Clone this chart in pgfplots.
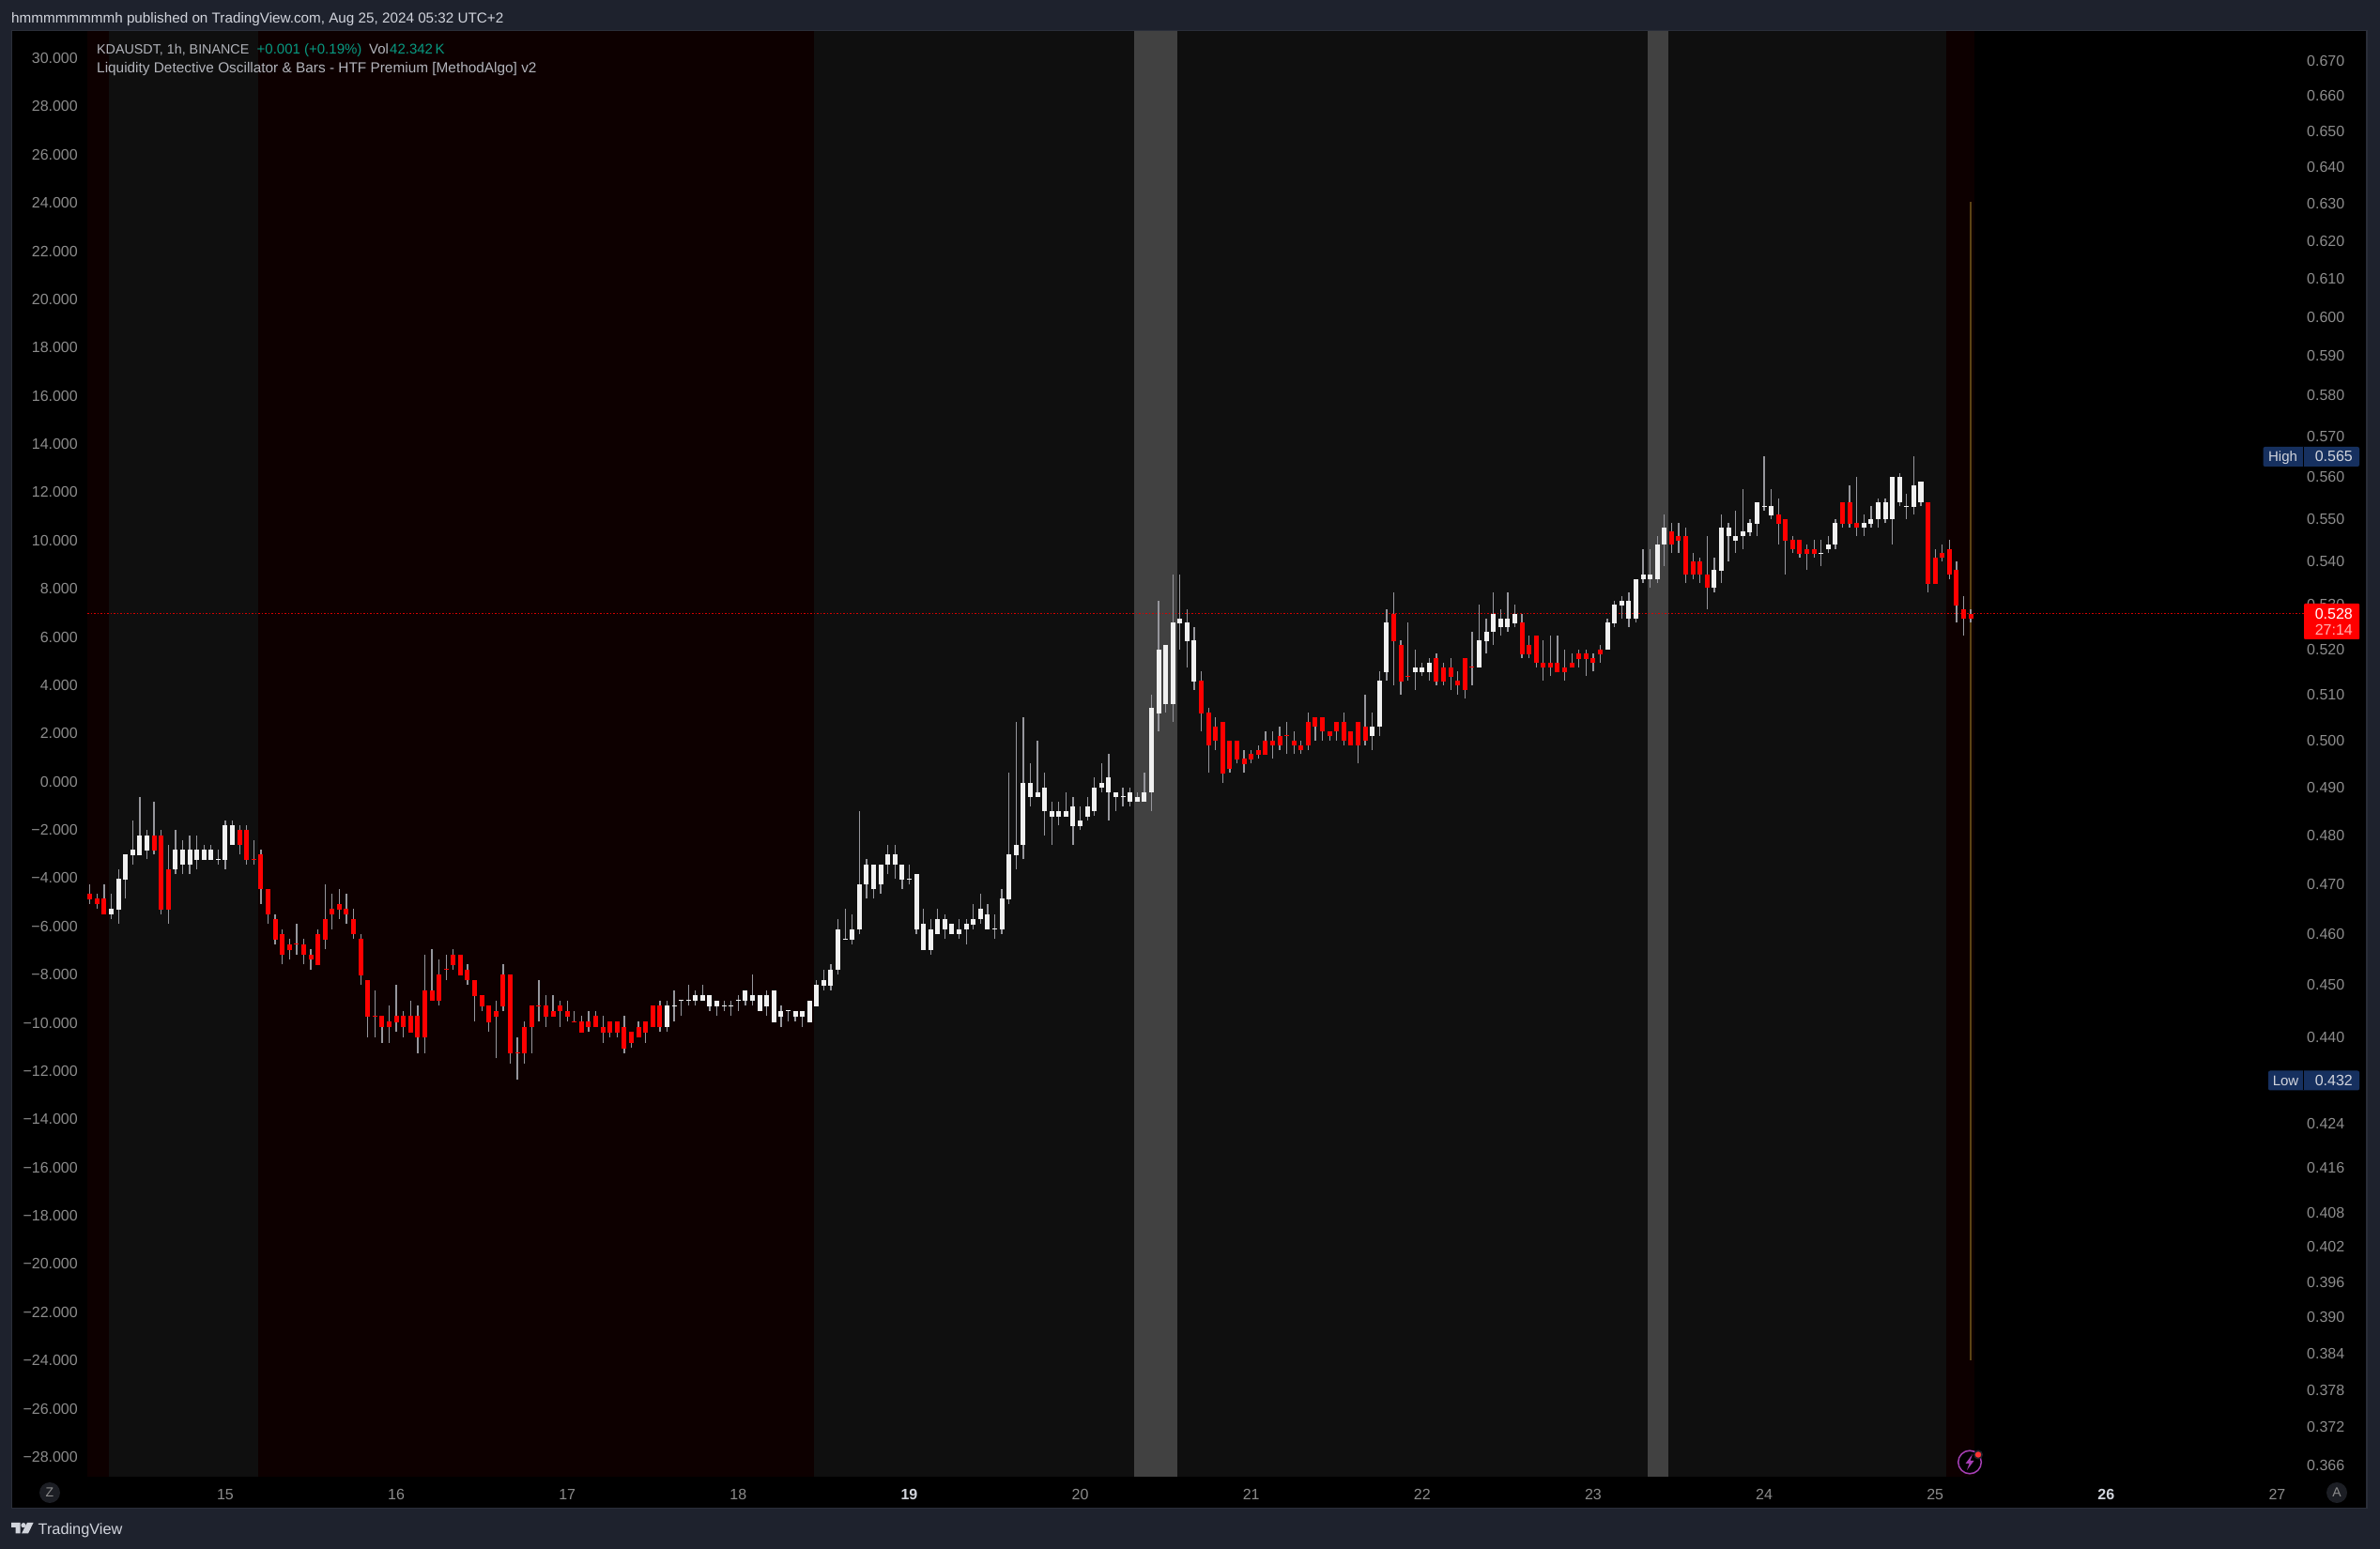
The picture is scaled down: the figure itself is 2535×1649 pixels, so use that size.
\documentclass[border=0pt]{standalone}
\usepackage{fontspec}
\setmainfont{Liberation Sans}
\usepackage{pgfplots}
\usepackage{pgfplotstable}
\pgfplotsset{compat=1.18}
\definecolor{tvbg}{HTML}{1E222D}
\definecolor{tvborder}{HTML}{2A2E39}
\definecolor{sred}{HTML}{0D0000}
\definecolor{sgray}{HTML}{0F0F0F}
\definecolor{slight}{HTML}{414141}
\definecolor{candlew}{HTML}{F0F0F0}
\definecolor{candler}{HTML}{FF0000}
\definecolor{wick}{HTML}{96969C}
\definecolor{ticktxt}{HTML}{8C8C8C}
\definecolor{tvtxt}{HTML}{D1D4DC}
\definecolor{tvgreen}{HTML}{089981}
\definecolor{hlblue}{HTML}{16305F}
\definecolor{vline}{HTML}{5A4314}
\definecolor{bolt}{HTML}{A63FB5}
\definecolor{btn}{HTML}{1C1E24}
\newcommand{\fs}[1]{\fontsize{#1}{#1}\selectfont}
% columns: hour since 15 Aug 00:00, open, high, low, close
\pgfplotstableread{
n o h l c
-19 0.468 0.470 0.466 0.467
-18 0.467 0.468 0.465 0.466
-17 0.467 0.470 0.464 0.464
-10 0.480 0.487 0.476 0.477
-9 0.480 0.481 0.464 0.465
-8 0.473 0.478 0.462 0.465
2 0.481 0.482 0.476 0.478
3 0.481 0.482 0.474 0.475
4 0.475 0.479 0.474 0.475
5 0.476 0.477 0.466 0.469
6 0.469 0.469 0.462 0.464
7 0.463 0.464 0.458 0.459
8 0.460 0.461 0.454 0.456
9 0.458 0.459 0.455 0.457
10 0.458 0.462 0.456 0.458
11 0.458 0.459 0.454 0.456
12 0.456 0.457 0.453 0.455
13 0.460 0.461 0.454 0.454
14 0.463 0.470 0.457 0.459
15 0.465 0.468 0.461 0.464
16 0.466 0.469 0.463 0.465
17 0.465 0.468 0.462 0.464
18 0.463 0.465 0.459 0.460
19 0.459 0.460 0.450 0.452
20 0.451 0.451 0.440 0.444
21 0.444 0.449 0.440 0.444
22 0.444 0.444 0.439 0.442
23 0.443 0.446 0.439 0.442
24 0.444 0.450 0.441 0.443
25 0.444 0.445 0.440 0.442
26 0.444 0.447 0.441 0.441
27 0.444 0.446 0.437 0.440
28 0.449 0.456 0.437 0.440
29 0.449 0.457 0.447 0.447
30 0.452 0.455 0.446 0.447
31 0.453 0.456 0.451 0.453
32 0.456 0.457 0.453 0.454
33 0.456 0.456 0.452 0.452
34 0.453 0.454 0.450 0.451
35 0.451 0.451 0.443 0.448
36 0.448 0.448 0.445 0.446
37 0.446 0.446 0.441 0.443
38 0.445 0.447 0.436 0.444
39 0.452 0.454 0.445 0.446
40 0.452 0.452 0.435 0.437
41 0.437 0.440 0.432 0.437
42 0.442 0.443 0.435 0.437
43 0.446 0.446 0.437 0.442
44 0.446 0.451 0.443 0.446
45 0.446 0.448 0.442 0.444
46 0.445 0.448 0.444 0.444
47 0.446 0.447 0.442 0.445
48 0.445 0.447 0.443 0.444
49 0.443 0.445 0.443 0.443
50 0.443 0.444 0.441 0.441
51 0.443 0.445 0.441 0.442
52 0.444 0.445 0.442 0.442
53 0.442 0.444 0.439 0.441
54 0.443 0.443 0.440 0.441
55 0.443 0.443 0.440 0.441
56 0.442 0.444 0.437 0.438
57 0.441 0.441 0.438 0.439
58 0.442 0.443 0.440 0.440
59 0.443 0.443 0.439 0.441
60 0.446 0.446 0.442 0.442
61 0.446 0.447 0.441 0.442
137 0.513 0.515 0.502 0.506
138 0.506 0.507 0.493 0.499
139 0.503 0.505 0.498 0.500
140 0.504 0.504 0.491 0.493
141 0.500 0.500 0.493 0.494
142 0.500 0.500 0.495 0.496
143 0.496 0.498 0.493 0.495
144 0.497 0.498 0.495 0.496
145 0.498 0.499 0.496 0.497
146 0.500 0.502 0.497 0.497
147 0.500 0.502 0.496 0.499
148 0.501 0.503 0.498 0.499
149 0.501 0.504 0.497 0.501
150 0.500 0.502 0.497 0.499
151 0.499 0.500 0.497 0.498
152 0.504 0.506 0.498 0.499
153 0.505 0.505 0.500 0.503
154 0.505 0.505 0.500 0.502
155 0.502 0.502 0.500 0.501
156 0.504 0.504 0.500 0.502
157 0.504 0.506 0.499 0.500
158 0.502 0.502 0.499 0.499
159 0.504 0.504 0.495 0.499
160 0.503 0.510 0.499 0.500
164 0.528 0.533 0.512 0.522
165 0.521 0.522 0.510 0.513
166 0.514 0.526 0.513 0.514
170 0.518 0.519 0.512 0.513
171 0.516 0.517 0.512 0.513
172 0.516 0.518 0.511 0.514
173 0.513 0.515 0.510 0.512
174 0.518 0.518 0.509 0.511
175 0.516 0.524 0.512 0.516
182 0.526 0.528 0.518 0.519
183 0.521 0.523 0.518 0.519
184 0.523 0.523 0.516 0.517
185 0.517 0.522 0.513 0.516
186 0.517 0.523 0.514 0.516
187 0.517 0.523 0.515 0.515
188 0.516 0.520 0.513 0.515
189 0.517 0.519 0.516 0.516
190 0.519 0.520 0.516 0.518
191 0.519 0.520 0.514 0.518
192 0.518 0.519 0.515 0.517
193 0.520 0.521 0.517 0.519
203 0.547 0.549 0.542 0.544
204 0.546 0.549 0.542 0.545
205 0.546 0.548 0.535 0.537
206 0.540 0.542 0.536 0.537
207 0.540 0.541 0.535 0.537
208 0.537 0.546 0.529 0.534
218 0.551 0.555 0.544 0.549
219 0.550 0.550 0.537 0.545
220 0.545 0.546 0.542 0.543
221 0.545 0.545 0.541 0.542
222 0.543 0.544 0.538 0.542
223 0.543 0.545 0.541 0.542
227 0.554 0.554 0.548 0.549
228 0.554 0.558 0.548 0.549
229 0.549 0.560 0.546 0.548
239 0.554 0.554 0.533 0.535
240 0.541 0.543 0.535 0.535
241 0.542 0.544 0.540 0.541
242 0.543 0.545 0.536 0.537
243 0.538 0.540 0.526 0.530
244 0.529 0.532 0.523 0.527
245 0.528 0.529 0.526 0.527
}\downcandles
\pgfplotstableread{
n o h l c
-16 0.464 0.468 0.463 0.465
-15 0.465 0.473 0.462 0.471
-14 0.471 0.476 0.467 0.476
-13 0.476 0.483 0.474 0.477
-12 0.476 0.488 0.476 0.480
-11 0.477 0.481 0.475 0.480
-7 0.473 0.481 0.472 0.477
-6 0.474 0.479 0.472 0.477
-5 0.474 0.480 0.472 0.477
-4 0.475 0.480 0.473 0.477
-3 0.475 0.478 0.475 0.477
-2 0.475 0.478 0.475 0.477
-1 0.475 0.477 0.474 0.475
0 0.475 0.483 0.473 0.482
1 0.478 0.483 0.478 0.482
62 0.442 0.447 0.441 0.446
63 0.446 0.449 0.443 0.446
64 0.447 0.447 0.444 0.447
65 0.447 0.450 0.446 0.447
66 0.447 0.449 0.446 0.448
67 0.447 0.450 0.447 0.448
68 0.446 0.448 0.445 0.448
69 0.446 0.447 0.444 0.447
70 0.446 0.447 0.445 0.446
71 0.446 0.447 0.444 0.446
72 0.447 0.448 0.445 0.447
73 0.447 0.449 0.446 0.449
74 0.447 0.452 0.446 0.448
75 0.445 0.448 0.445 0.448
76 0.446 0.449 0.444 0.448
77 0.443 0.449 0.443 0.449
78 0.444 0.446 0.442 0.445
79 0.445 0.445 0.443 0.445
80 0.444 0.445 0.443 0.445
81 0.444 0.445 0.442 0.445
82 0.443 0.447 0.443 0.447
83 0.446 0.451 0.446 0.450
84 0.450 0.453 0.449 0.451
85 0.450 0.454 0.449 0.453
86 0.453 0.463 0.452 0.461
87 0.459 0.465 0.459 0.459
88 0.459 0.464 0.458 0.461
89 0.461 0.485 0.460 0.470
90 0.470 0.475 0.467 0.474
91 0.469 0.474 0.467 0.474
92 0.470 0.474 0.468 0.474
93 0.474 0.478 0.472 0.476
94 0.474 0.478 0.471 0.476
95 0.471 0.474 0.469 0.474
96 0.471 0.474 0.470 0.471
97 0.461 0.472 0.460 0.472
98 0.457 0.465 0.457 0.462
99 0.457 0.463 0.456 0.461
100 0.460 0.465 0.460 0.463
101 0.461 0.464 0.459 0.463
102 0.460 0.462 0.460 0.462
103 0.460 0.463 0.459 0.461
104 0.461 0.463 0.458 0.462
105 0.462 0.466 0.461 0.463
106 0.463 0.468 0.462 0.465
107 0.461 0.466 0.461 0.464
108 0.461 0.464 0.459 0.461
109 0.461 0.469 0.460 0.467
110 0.467 0.493 0.466 0.476
111 0.476 0.504 0.473 0.478
112 0.478 0.505 0.475 0.491
113 0.488 0.495 0.486 0.491
114 0.488 0.500 0.488 0.489
115 0.485 0.493 0.480 0.490
116 0.484 0.487 0.478 0.485
117 0.484 0.487 0.482 0.485
118 0.484 0.489 0.484 0.485
119 0.482 0.488 0.478 0.486
120 0.482 0.486 0.481 0.483
121 0.484 0.488 0.483 0.486
122 0.485 0.492 0.484 0.490
123 0.490 0.495 0.489 0.491
124 0.489 0.497 0.483 0.492
125 0.488 0.489 0.485 0.489
126 0.488 0.490 0.486 0.488
127 0.487 0.490 0.486 0.489
128 0.487 0.489 0.487 0.488
129 0.487 0.493 0.487 0.489
130 0.489 0.510 0.485 0.507
131 0.506 0.531 0.502 0.520
132 0.508 0.521 0.506 0.521
133 0.508 0.537 0.504 0.526
134 0.526 0.537 0.520 0.527
135 0.522 0.529 0.516 0.526
136 0.513 0.525 0.511 0.522
161 0.501 0.506 0.498 0.503
162 0.503 0.515 0.501 0.513
163 0.515 0.529 0.513 0.526
167 0.515 0.520 0.511 0.516
168 0.515 0.517 0.514 0.516
169 0.515 0.518 0.513 0.517
176 0.516 0.530 0.516 0.522
177 0.522 0.527 0.519 0.524
178 0.524 0.533 0.521 0.528
179 0.525 0.529 0.523 0.527
180 0.525 0.533 0.524 0.527
181 0.526 0.530 0.525 0.528
194 0.520 0.527 0.520 0.526
195 0.526 0.531 0.525 0.530
196 0.530 0.532 0.527 0.531
197 0.527 0.533 0.525 0.531
198 0.527 0.536 0.526 0.536
199 0.536 0.543 0.535 0.537
200 0.536 0.543 0.534 0.537
201 0.536 0.546 0.535 0.544
202 0.544 0.551 0.539 0.548
209 0.534 0.541 0.533 0.538
210 0.538 0.551 0.535 0.548
211 0.546 0.549 0.540 0.548
212 0.545 0.552 0.542 0.546
213 0.546 0.557 0.543 0.547
214 0.547 0.550 0.546 0.549
215 0.549 0.554 0.546 0.554
216 0.553 0.565 0.552 0.553
217 0.551 0.557 0.550 0.553
224 0.542 0.545 0.539 0.542
225 0.543 0.546 0.542 0.544
226 0.544 0.550 0.543 0.549
230 0.548 0.551 0.546 0.549
231 0.549 0.553 0.548 0.550
232 0.550 0.555 0.548 0.554
233 0.550 0.555 0.549 0.554
234 0.550 0.560 0.544 0.560
235 0.554 0.561 0.553 0.560
236 0.553 0.556 0.550 0.553
237 0.553 0.565 0.551 0.558
238 0.554 0.559 0.553 0.559
}\upcandles
\begin{document}
\begin{tikzpicture}[x=1pt,y=1pt]
\useasboundingbox (0pt,0pt) rectangle (2535pt,1649pt);
\begin{scope}[x=1pt,y=-1pt,shift={(0pt,1649pt)}]
\fill[tvbg] (-6,-6) rectangle (2541,1655);
\fill[black,draw=tvborder,line width=1.5pt] (12.5,32.5) rectangle (2521,1606.5);
\end{scope}
% main axis: price (log) on the right, time along the bottom
\begin{axis}[
  at={(93pt,76pt)},anchor=south west,scale only axis,width=2361pt,height=1540pt,
  xmin=-19.37,xmax=291.77,ymode=log,ymin=0.36416,ymax=0.6786,
  axis line style={draw=none},major tick length=0pt,minor tick length=0pt,
  xtick={0,24,48,72,96,120,144,168,192,216,240,264,288},
  xticklabels={15,16,17,18,\textbf{\color{tvtxt}19},20,21,22,23,24,25,\textbf{\color{tvtxt}26},27},
  xticklabel style={font=\fs{16},text=ticktxt,anchor=base,inner sep=0pt,yshift=-24pt},
  ytick pos=right,yticklabel pos=right,
  ytick={0.670,0.660,0.650,0.640,0.630,0.620,0.610,0.600,0.590,0.580,0.570,0.560,0.550,0.540,0.530,0.520,0.510,0.500,0.490,0.480,0.470,0.460,0.450,0.440,0.424,0.416,0.408,0.402,0.396,0.390,0.384,0.378,0.372,0.366},
  yticklabels={0.670,0.660,0.650,0.640,0.630,0.620,0.610,0.600,0.590,0.580,0.570,0.560,0.550,0.540,0.530,0.520,0.510,0.500,0.490,0.480,0.470,0.460,0.450,0.440,0.424,0.416,0.408,0.402,0.396,0.390,0.384,0.378,0.372,0.366},
  yticklabel style={font=\fs{16},text=ticktxt,inner sep=0pt,xshift=3pt},
  ytick style={draw=none},xtick style={draw=none},
]
\addplot[fill=sred,draw=none] coordinates {(-19.37,0.36416)(-16.35,0.36416)(-16.35,0.6786)(-19.37,0.6786)};
\addplot[fill=sgray,draw=none] coordinates {(-16.35,0.36416)(4.6,0.36416)(4.6,0.6786)(-16.35,0.6786)};
\addplot[fill=sred,draw=none] coordinates {(4.6,0.36416)(82.6,0.36416)(82.6,0.6786)(4.6,0.6786)};
\addplot[fill=sgray,draw=none] coordinates {(82.6,0.36416)(127.57,0.36416)(127.57,0.6786)(82.6,0.6786)};
\addplot[fill=slight,draw=none] coordinates {(127.57,0.36416)(133.6,0.36416)(133.6,0.6786)(127.57,0.6786)};
\addplot[fill=sgray,draw=none] coordinates {(133.6,0.36416)(199.65,0.36416)(199.65,0.6786)(133.6,0.6786)};
\addplot[fill=slight,draw=none] coordinates {(199.65,0.36416)(202.55,0.36416)(202.55,0.6786)(199.65,0.6786)};
\addplot[fill=sgray,draw=none] coordinates {(202.55,0.36416)(241.56,0.36416)(241.56,0.6786)(202.55,0.6786)};
\addplot[fill=sred,draw=none] coordinates {(241.56,0.36416)(245.5,0.36416)(245.5,0.6786)(241.56,0.6786)};
% oscillator spike drawn at the last bar
\addplot[vline,line width=2pt] coordinates {(244.93,0.6305)(244.93,0.3829)};
% last-price line
\addplot[candler!85!black,line width=1pt,dash pattern=on 1.5pt off 2pt] coordinates {(-19.37,0.528)(291.77,0.528)};
% wicks
\addplot[draw=none,mark=none,error bars/.cd,y dir=plus,y explicit,error mark=none,error bar style={wick,line width=1.3pt}]
  table[x=n,y=l,y error plus expr=\thisrow{h}-\thisrow{l}] {\downcandles};
\addplot[draw=none,mark=none,error bars/.cd,y dir=plus,y explicit,error mark=none,error bar style={wick,line width=1.3pt}]
  table[x=n,y=l,y error plus expr=\thisrow{h}-\thisrow{l}] {\upcandles};
% bodies
\addplot[only marks,mark=-,mark size=2.5pt,mark options={candler,line width=1pt},error bars/.cd,y dir=plus,y explicit,error mark=none,error bar style={candler,line width=5pt}]
  table[x=n,y=c,y error plus expr=\thisrow{o}-\thisrow{c}] {\downcandles};
\addplot[only marks,mark=-,mark size=2.5pt,mark options={candlew,line width=1pt},error bars/.cd,y dir=plus,y explicit,error mark=none,error bar style={candlew,line width=5pt}]
  table[x=n,y=o,y error plus expr=\thisrow{c}-\thisrow{o}] {\upcandles};
\end{axis}
% left scale: oscillator (linear)
\begin{axis}[
  at={(93pt,76pt)},anchor=south west,scale only axis,width=2361pt,height=1540pt,
  xmin=-19.37,xmax=291.77,ymin=-28.856,ymax=31.09,
  axis line style={draw=none},major tick length=0pt,
  xtick=\empty,ytick pos=left,yticklabel pos=left,
  ytick={30,28,26,24,22,20,18,16,14,12,10,8,6,4,2,0,-2,-4,-6,-8,-10,-12,-14,-16,-18,-20,-22,-24,-26,-28},
  yticklabels={30.000,28.000,26.000,24.000,22.000,20.000,18.000,16.000,14.000,12.000,10.000,8.000,6.000,4.000,2.000,0.000,−2.000,−4.000,−6.000,−8.000,−10.000,−12.000,−14.000,−16.000,−18.000,−20.000,−22.000,−24.000,−26.000,−28.000},
  yticklabel style={font=\fs{16},text=ticktxt,inner sep=0pt,xshift=-10pt,yshift=-1pt},
  ytick style={draw=none},
]
\end{axis}
\begin{scope}[x=1pt,y=-1pt,shift={(0pt,1649pt)}]
% header and legend
\node[anchor=base west,inner sep=0pt,text=tvtxt,font=\fs{15.25}] at (12,25) {hmmmmmmmmh published on TradingView.com, Aug 25, 2024 05:32 UTC+2};
\node[anchor=base west,inner sep=0pt,text=tvtxt!85!black,font=\fs{14.3}] at (103,57.5) {KDAUSDT, 1h, BINANCE};
\node[anchor=base west,inner sep=0pt,text=tvgreen,font=\fs{15}] at (273.5,57.5) {+0.001 (+0.19\%)};
\node[anchor=base west,inner sep=0pt,text=tvtxt!85!black,font=\fs{15}] at (393,57.5) {Vol};
\node[anchor=base west,inner sep=0pt,text=tvgreen,font=\fs{15}] at (415,57.5) {42.342\,K};
\node[anchor=base west,inner sep=0pt,text=tvtxt!85!black,font=\fs{15.38}] at (103,78) {Liquidity Detective Oscillator \& Bars - HTF Premium [MethodAlgo] v2};
% price labels
\fill[hlblue,rounded corners=2pt] (2410.5,476) rectangle (2513,497);
\fill[black] (2453.3,476) rectangle (2454,497);
\node[anchor=base,inner sep=0pt,text=tvtxt,font=\fs{15}] at (2431.5,492) {High};
\node[anchor=base east,inner sep=0pt,text=tvtxt,font=\fs{16}] at (2506,492) {0.565};
\fill[hlblue,rounded corners=2pt] (2416,1140.5) rectangle (2513,1161.5);
\fill[black] (2453.3,1140.5) rectangle (2454,1161.5);
\node[anchor=base,inner sep=0pt,text=tvtxt,font=\fs{15}] at (2434.5,1156.5) {Low};
\node[anchor=base east,inner sep=0pt,text=tvtxt,font=\fs{16}] at (2506,1156.5) {0.432};
\fill[candler,rounded corners=1pt] (2454,643) rectangle (2513,681);
\node[anchor=base east,inner sep=0pt,text=white,font=\fs{16}] at (2506,659.5) {0.528};
\node[anchor=base east,inner sep=0pt,text=white!70!candler,font=\fs{16}] at (2506,676.5) {27:14};
% buttons
\fill[btn] (53,1590) circle (11);
\node[inner sep=0pt,text=ticktxt,font=\fs{14}] at (53,1590) {Z};
\fill[btn] (2489,1590) circle (11);
\node[inner sep=0pt,text=ticktxt,font=\fs{14}] at (2489,1590) {A};
% alert icon
\draw[bolt,line width=1.5pt,fill=black] (2098,1557.5) circle (12.3);
\fill[bolt] (2101,1549) -- (2093.5,1559) -- (2097.5,1559) -- (2095,1566) -- (2102.5,1556) -- (2098.5,1556) -- cycle;
\fill[tvbg] (2107,1549.5) circle (5);
\fill[red!80!white] (2107,1549.5) circle (3.2);
% TradingView logo
\fill[tvtxt] (12,1622) -- (21.5,1622) -- (21.5,1633.5) -- (16.5,1633.5) -- (16.5,1627) -- (12,1627) -- cycle;
\fill[tvtxt] (25,1624.7) circle (2.6);
\fill[tvtxt] (29,1622) -- (35.5,1622) -- (30,1633.5) -- (23,1633.5) -- cycle;
\node[anchor=base west,inner sep=0pt,text=tvtxt,font=\fs{16.3}] at (40.5,1634) {TradingView};
\end{scope}
\end{tikzpicture}
\end{document}
